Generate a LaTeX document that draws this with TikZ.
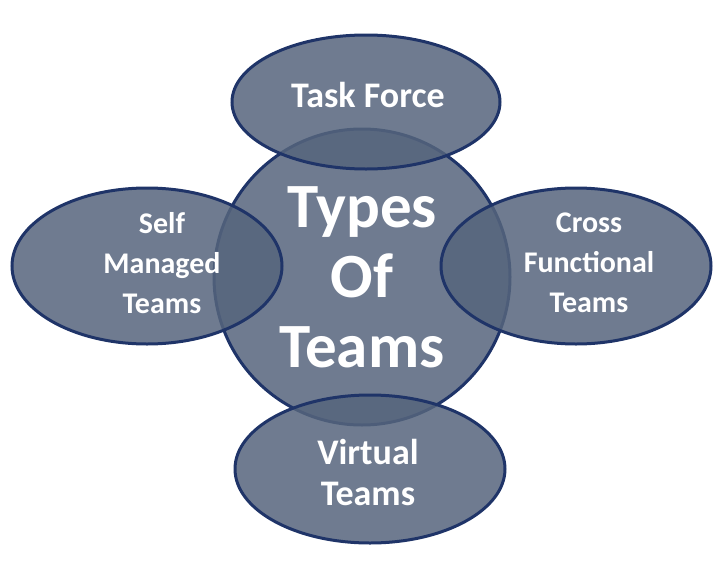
\documentclass[tikz,border=0pt]{standalone}
\usepackage{fontspec}
\setmainfont{Carlito}
\definecolor{fillc}{HTML}{56657D}
\definecolor{edgec}{HTML}{1F3468}
\begin{document}
\begin{tikzpicture}[x=1pt,y=-1pt,
  blob/.style={draw=edgec, line width=3pt, fill=fillc, fill opacity=0.85, draw opacity=1},
  lbl/.style={text=white, font=\bfseries\fontsize{36}{41}\selectfont, align=center},
  slbl/.style={lbl, font=\bfseries\fontsize{30}{40}\selectfont}]
\useasboundingbox (0,0) rectangle (721,568);
\fill[white] (0,0) rectangle (721,568);
\draw[blob] (362,277) circle (148);
\draw[blob] (366,102) ellipse (134 and 67);
\draw[blob] (147,266) ellipse (135 and 78);
\draw[blob] (576,266) ellipse (135 and 78);
\draw[blob] (370,469) ellipse (135 and 74);
\node[lbl, font=\bfseries\fontsize{63}{70}\selectfont] (c) at (362,277) {Types\\Of\\Teams};
\node[lbl] (t) at (368,95) {Task Force};
\node[slbl] (l) at (162,263) {Self\\Managed\\Teams};
\node[slbl] (r) at (589,263) {Cross\\Functional\\Teams};
\node[lbl] (b) at (368,472) {Virtual\\Teams};
\end{tikzpicture}
\end{document}
